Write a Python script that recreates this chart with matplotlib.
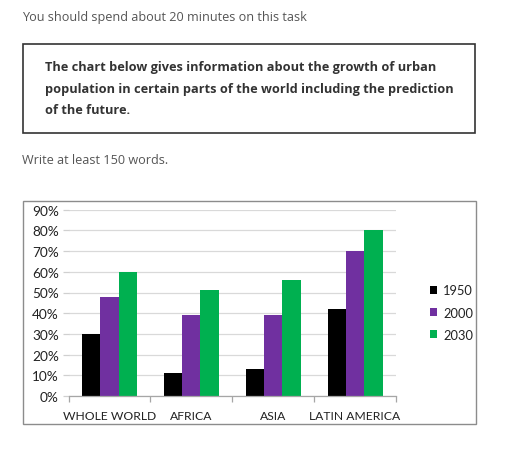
import matplotlib
matplotlib.use("Agg")
import matplotlib.pyplot as plt
from matplotlib.patches import Rectangle, Patch
import numpy as np

categories = ["WHOLE WORLD", "AFRICA", "ASIA", "LATIN AMERICA"]
years = ["1950", "2000", "2030"]
v1950 = [30, 11, 13, 42]
v2000 = [48, 39, 39, 70]
v2030 = [60, 51, 56, 80]
yticks = [0, 10, 20, 30, 40, 50, 60, 70, 80, 90]
colors = ["#000000", "#7030A0", "#00B050"]

W, H = 512, 452
fig = plt.figure(figsize=(W / 100, H / 100), dpi=100)
fig.patch.set_facecolor("white")

def fx(px):
    return px / W

def fy(py):
    return 1 - py / H

# Header texts
fig.text(fx(22), fy(18), "You should spend about 20 minutes on this task",
         fontsize=9.1, family="Open Sans", color="#555555", va="center", ha="left")
fig.patches.append(Rectangle((fx(23), fy(134)), fx(475) - fx(23), fy(45) - fy(134),
                             transform=fig.transFigure, fill=False, edgecolor="#333333", lw=1.2))
box_lines = ["The chart below gives information about the growth of urban",
             "population in certain parts of the world including the prediction",
             "of the future."]
for k, line in enumerate(box_lines):
    fig.text(fx(45), fy(68 + 21 * k), line, fontsize=9.15, family="Open Sans",
             fontweight="bold", color="#333333", va="center", ha="left")
fig.text(fx(22), fy(160), "Write at least 150 words.",
         fontsize=9.1, family="Open Sans", color="#555555", va="center", ha="left")

# Chart border
fig.patches.append(Rectangle((fx(22.5), fy(425)), fx(475.5) - fx(22.5), fy(202) - fy(425),
                             transform=fig.transFigure, fill=False, edgecolor="#8c8c8c", lw=1.0))

ax = fig.add_axes([fx(68.5), fy(397), fx(396) - fx(68.5), fy(210.7) - fy(397)])
x = np.arange(len(categories))
w = 0.224
series = [v1950, v2000, v2030]
for j, (vals, c) in enumerate(zip(series, colors)):
    ax.bar(x + (j - 1) * w, [v / 100 for v in vals], width=w, color=c, edgecolor="none",
           label=years[j], zorder=3)

ax.set_xlim(-0.5, len(categories) - 0.5)
ax.set_ylim(0, 0.9)
ax.set_yticks([t / 100 for t in yticks])
ax.set_yticklabels([f"{t}%" for t in yticks])
ax.yaxis.grid(True, color="#d9d9d9", lw=0.9, zorder=0)
ax.set_xticks(x)
ax.set_xticklabels(categories)
ax.set_xticks(np.arange(-0.5, len(categories)), minor=True)
ax.tick_params(axis="x", which="major", length=0, pad=10, labelsize=8.7, labelcolor="#222222")
ax.tick_params(axis="x", which="minor", length=4, color="#a6a6a6", width=0.9)
ax.tick_params(axis="y", length=4, color="#d0d0d0", width=0.9, pad=3,
               labelsize=9.8, labelcolor="#222222")
for lab in ax.get_xticklabels() + ax.get_yticklabels():
    lab.set_family("Lato")
for s in ["top", "right", "left"]:
    ax.spines[s].set_visible(False)
ax.spines["bottom"].set_color("#a6a6a6")
ax.spines["bottom"].set_linewidth(0.9)
ax.spines["bottom"].set_zorder(4)

handles = [Patch(facecolor=c, edgecolor="none") for c in colors]
leg = fig.legend(handles, years, loc="center left", bbox_to_anchor=(fx(418), fy(313.5)),
                 frameon=False, handlelength=0.6, handleheight=0.6, handletextpad=0.45,
                 labelspacing=0.8, prop={"family": "Lato", "size": 9.3})
for t in leg.get_texts():
    t.set_color("#222222")

fig.savefig("out.png", dpi=100, facecolor="white")
